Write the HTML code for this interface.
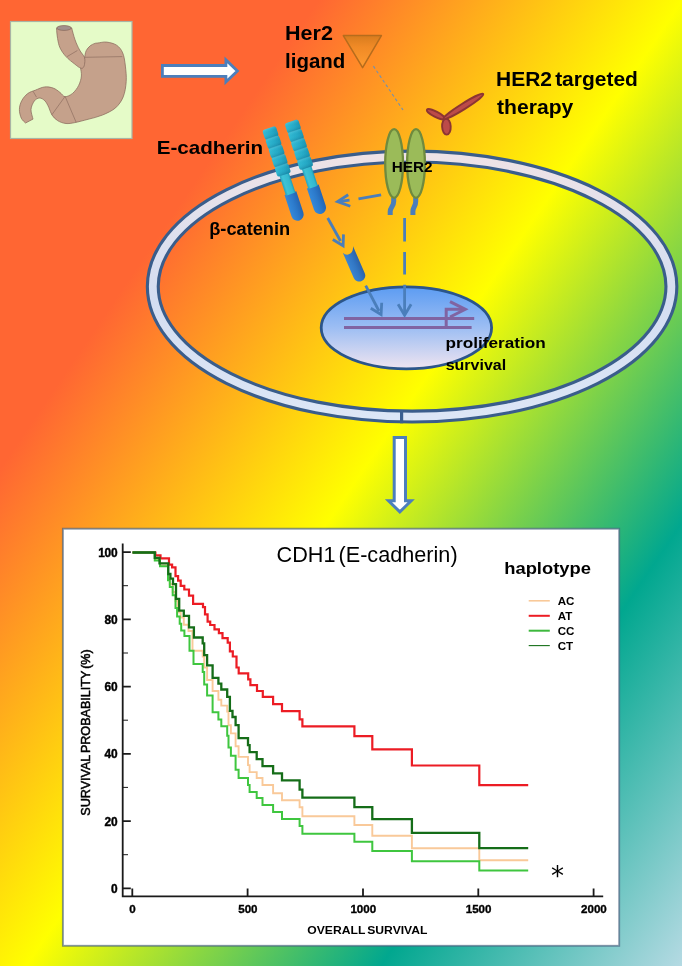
<!DOCTYPE html>
<html lang="en"><head><meta charset="utf-8"><title>HER2 and E-cadherin in gastric cancer</title>
<style>
html,body{margin:0;padding:0}
body{width:682px;height:966px;overflow:hidden;background:#FF6633}
#slide{position:relative;width:682px;height:966px;overflow:hidden;
background:linear-gradient(124.2deg,#FF6633 0%,#FF6633 23.8%,#FFFF00 51%,#01A78F 77.5%,#B5DAE3 100%)}
svg{display:block;position:absolute;left:0;top:0}
text{font-family:"Liberation Sans",sans-serif;fill:#000}
.b{font-weight:bold}
</style></head><body>
<div id="slide">
<svg width="682" height="966" viewBox="0 0 682 966">
<defs>
<linearGradient id="memb" x1="0" y1="0" x2="0" y2="1"><stop offset="0" stop-color="#EEE2E6"/><stop offset="0.3" stop-color="#DEE0EE"/><stop offset="0.55" stop-color="#D4DDF1"/><stop offset="1" stop-color="#DCE6F6"/></linearGradient>
<linearGradient id="nuc" x1="0" y1="0" x2="0" y2="1"><stop offset="0" stop-color="#5C9CF2"/><stop offset="0.5" stop-color="#9DBEF3"/><stop offset="1" stop-color="#EFE4F0"/></linearGradient>
<linearGradient id="tri" x1="0" y1="0" x2="0" y2="1"><stop offset="0" stop-color="#D87C1E"/><stop offset="0.35" stop-color="#F08A26"/><stop offset="1" stop-color="#FF9C30"/></linearGradient>
<linearGradient id="seg" x1="0" y1="0" x2="1" y2="0"><stop offset="0" stop-color="#31BAD3"/><stop offset="0.6" stop-color="#25A9C6"/><stop offset="1" stop-color="#1C97B5"/></linearGradient>
<linearGradient id="thin" x1="0" y1="0" x2="1" y2="0"><stop offset="0" stop-color="#25A5BF"/><stop offset="0.25" stop-color="#3FC3D6"/><stop offset="0.8" stop-color="#33B8CE"/><stop offset="1" stop-color="#1F9AB4"/></linearGradient>
<linearGradient id="cyl" x1="0" y1="0" x2="1" y2="0"><stop offset="0" stop-color="#3489DA"/><stop offset="0.5" stop-color="#2C7ACB"/><stop offset="1" stop-color="#2465B3"/></linearGradient>
<linearGradient id="shade" x1="0" y1="0" x2="0" y2="1"><stop offset="0" stop-color="#7FE3F2" stop-opacity="0.35"/><stop offset="0.45" stop-color="#2AB0CB" stop-opacity="0"/><stop offset="1" stop-color="#0A5F80" stop-opacity="0.4"/></linearGradient>
<linearGradient id="cyl2" x1="0" y1="0" x2="1" y2="0"><stop offset="0" stop-color="#3A84D2"/><stop offset="0.5" stop-color="#3277C4"/><stop offset="1" stop-color="#2A62AA"/></linearGradient>
<g id="rod">
 <path d="M-6.2 68.5H6.2V91A6.2 6.2 0 0 1 -6.2 91Z" fill="url(#cyl)"/>
 <rect x="-5" y="47" width="10" height="22.5" fill="url(#thin)"/>
 <rect x="-7.1" y="0" width="14.2" height="10.4" rx="2.2" fill="url(#seg)"/>
 <rect x="-7.1" y="9.7" width="14.2" height="10.4" rx="2.2" fill="url(#seg)"/>
 <rect x="-7.1" y="19.4" width="14.2" height="10.4" rx="2.2" fill="url(#seg)"/>
 <rect x="-7.1" y="29.1" width="14.2" height="10.4" rx="2.2" fill="url(#seg)"/>
 <rect x="-7.1" y="38.8" width="14.2" height="10.4" rx="2.2" fill="url(#seg)"/>
 <rect x="-7.1" y="0.0" width="14.2" height="10.2" rx="2.4" fill="url(#shade)"/>
 <rect x="-7.1" y="9.7" width="14.2" height="10.2" rx="2.4" fill="url(#shade)"/>
 <rect x="-7.1" y="19.4" width="14.2" height="10.2" rx="2.4" fill="url(#shade)"/>
 <rect x="-7.1" y="29.1" width="14.2" height="10.2" rx="2.4" fill="url(#shade)"/>
 <rect x="-7.1" y="38.8" width="14.2" height="10.2" rx="2.4" fill="url(#shade)"/>
</g>
</defs>
<rect x="10.5" y="21.5" width="121.5" height="117" fill="#E5FBC8" stroke="#A9B4A4" stroke-width="1.2"/>
<g fill="#C5A18B" stroke="#8A6A5C" stroke-width="0.75" stroke-linejoin="round">
<path d="M84.7 57.1C84.9 56.0 85.3 52.6 86.2 50.7C87.1 48.8 88.7 47.1 90.2 45.8C91.6 44.6 93.7 43.9 95.0 43.4C96.3 43.0 95.9 43.2 97.9 43.0C99.8 42.8 103.5 41.7 106.7 42.1C109.8 42.5 113.9 43.4 116.6 45.2C119.2 47.0 121.3 49.4 122.7 52.9C124.2 56.4 124.8 61.3 125.4 66.1C125.9 70.8 126.6 76.3 126.2 81.5C125.9 86.6 125.0 92.5 123.2 96.9C121.4 101.3 118.9 104.8 115.5 107.9C112.0 110.9 106.8 113.2 102.3 115.1C97.7 117.0 92.6 118.1 88.0 119.3C83.4 120.5 78.4 121.9 74.8 122.6C71.1 123.3 68.8 123.8 66.0 123.5C63.1 123.2 60.0 122.1 57.6 120.6C55.3 119.2 53.4 117.1 51.9 114.9C50.4 112.7 50.0 109.8 48.8 107.4C47.7 105.1 46.4 102.4 44.9 100.8C43.3 99.3 41.3 97.9 39.6 98.0C37.8 98.0 35.7 99.1 34.3 101.0C32.9 103.0 31.2 106.4 31.0 109.4C30.8 112.4 32.7 117.5 33.0 119.1L25.5 123.0C24.8 122.2 22.4 120.5 21.3 118.2C20.3 115.9 19.3 112.3 19.4 109.4C19.4 106.5 20.4 103.2 21.8 100.6C23.2 98.0 25.4 95.3 27.7 93.6C30.0 91.8 32.8 91.2 35.6 90.1C38.4 89.0 41.5 87.3 44.4 87.0C47.4 86.6 50.7 87.2 53.2 88.1C55.8 89.0 57.8 90.8 59.8 92.3C61.8 93.7 63.0 96.5 65.1 96.7C67.2 96.8 70.3 95.2 72.6 93.4C74.8 91.5 77.3 88.3 78.7 85.4C80.2 82.5 81.1 78.9 81.4 76.0C81.7 73.0 80.6 69.0 80.5 67.6Z"/>
<path d="M56.5 28.5C56.7 30.2 57.0 35.4 57.6 38.6C58.2 41.8 58.6 44.8 60.0 47.8C61.4 50.8 63.5 53.9 66.0 56.6C68.4 59.3 72.5 62.3 74.8 64.1C77.0 65.9 78.3 67.0 79.6 67.6C80.9 68.3 81.9 68.6 82.7 68.1C83.5 67.5 84.2 66.3 84.5 64.5C84.7 62.8 85.3 59.9 84.5 57.5C83.6 55.1 81.2 53.0 79.6 50.0C78.0 47.1 76.3 43.4 75.0 39.7C73.7 36.0 72.2 30.0 71.7 28.0Z"/>
<ellipse cx="64.0" cy="28.0" rx="7.3" ry="2.4" fill="#A2908C"/>
</g>
<g fill="none" stroke="#8E6F60" stroke-width="0.7">
<path d="M84.7 57.3L122.3 56.6"/>
<path d="M67.1 56.6L77.4 50.5"/>
<path d="M65.1 96.4L51.9 114.7"/>
<path d="M65.1 96.4L76.1 122.2"/>
<path d="M33.0 91.2L36.5 97.1"/>
</g>
<path d="M162.4 65.5H225.9V59.9L237.4 70.9L225.9 81.9V76.3H162.4Z" fill="#fff" stroke="#4C7FBC" stroke-width="2.8" stroke-linejoin="miter"/>
<ellipse cx="412.1" cy="286.6" rx="259.3" ry="130" fill="none" stroke="#3A5D8B" stroke-width="14"/>
<ellipse cx="412.1" cy="286.6" rx="259.3" ry="130" fill="none" stroke="url(#memb)" stroke-width="7.8"/>
<path d="M401.6 410V423.3" stroke="#3A5F90" stroke-width="3.2" fill="none"/>
<path d="M343.3 35.6H381.4L362.6 67.6Z" fill="url(#tri)" stroke="#B66C1C" stroke-width="1.5" stroke-linejoin="round"/>
<path d="M373.4 66.1L403 110" stroke="#7290B0" stroke-width="1.1" stroke-dasharray="3 2.6" fill="none"/>
<g fill="#BC4B49" stroke="#8C3533" stroke-width="1.9">
<ellipse cx="446.4" cy="126.6" rx="4.3" ry="8" transform="rotate(-3 446.4 126.6)"/>
<ellipse cx="435.8" cy="114.3" rx="10" ry="2.7" transform="rotate(27.3 435.8 114.3)"/>
<ellipse cx="463.4" cy="106.4" rx="23.4" ry="2.9" transform="rotate(-32 463.4 106.4)"/>
</g>
<use href="#rod" transform="translate(268.9 128.1) rotate(-18.3)"/>
<use href="#rod" transform="translate(291.3 121.4) rotate(-18.3)"/>
<g stroke="#4A7EBB" stroke-width="5" fill="none" stroke-linecap="butt">
<path d="M393.7 197.5V201.5C393.7 206.5 390.2 207 390.2 211.5V215"/>
<path d="M415.7 197.5V201.5C415.7 206.5 412.9 207 412.9 211.5V215"/>
</g>
<ellipse cx="394.1" cy="163.5" rx="8.9" ry="34.3" fill="#9BBB59" stroke="#6F8A3E" stroke-width="2.3"/>
<ellipse cx="416" cy="163.5" rx="8.9" ry="34.3" fill="#9BBB59" stroke="#6F8A3E" stroke-width="2.3"/>
<ellipse cx="406.4" cy="327.8" rx="85.2" ry="41" fill="url(#nuc)" stroke="#2B558A" stroke-width="2.8"/>
<g stroke="#8064A2" stroke-width="3" fill="none">
<path d="M344 318.5H474.2"/>
<path d="M344 327.5H471.6"/>
<path d="M446.2 326.5V309.3H464"/>
<path d="M450 301.6L465.3 309.3L450 317" stroke-linejoin="miter"/>
</g>
<g stroke="#4A7EBB" stroke-width="2.8" fill="none">
<path d="M381.1 194.8L358.5 198.9"/>
<path d="M349.5 200.1L338 201.6"/>
<path d="M348.2 194.8L337.5 201.6L350.3 206.3"/>
<path d="M327.7 218L340.5 241"/>
<path d="M332.8 239.5L343.1 245.7L343.5 234.4"/>
<path d="M365.7 285.7L379 311"/>
<path d="M370.8 308.3L381.1 314.5L381.7 302.8"/>
<path d="M404.6 218V241.6M404.6 251.9V274.4M404.6 284.7V313"/>
<path d="M398.1 304.2L404.6 315.2L411.1 304.2"/>
</g>
<path d="M-6 -1C-3.6 4.8 4 4.2 6 -3.2V26.5A6 6 0 0 1 -6 26.5Z" fill="url(#cyl2)" transform="translate(348.7 251.3) rotate(-23.5)"/>
<path d="M394.2 437.6H405.5V500.7H411.2L399.85 511.9L388.5 500.7H394.2Z" fill="#fff" stroke="#4C7FBC" stroke-width="3"/>
<text x="285.1" y="39.7" font-size="19.3" class="b" textLength="47.8" lengthAdjust="spacingAndGlyphs">Her2</text>
<text x="285.1" y="68.3" font-size="19.3" class="b" textLength="60.3" lengthAdjust="spacingAndGlyphs">ligand</text>
<text x="496.1" y="85.7" font-size="19.3" class="b" textLength="141.8" lengthAdjust="spacingAndGlyphs" word-spacing="-2.5">HER2 targeted</text>
<text x="497.0" y="113.6" font-size="19.3" class="b" textLength="76.3" lengthAdjust="spacingAndGlyphs">therapy</text>
<text x="156.7" y="153.6" font-size="19.0" class="b" textLength="106.5" lengthAdjust="spacingAndGlyphs">E-cadherin</text>
<text x="209.2" y="234.5" font-size="18.0" class="b" textLength="81.0" lengthAdjust="spacingAndGlyphs">β-catenin</text>
<text x="391.7" y="171.6" font-size="15.2" class="b" textLength="40.9" lengthAdjust="spacingAndGlyphs">HER2</text>
<text x="445.5" y="347.6" font-size="15.2" class="b" textLength="100.2" lengthAdjust="spacingAndGlyphs">proliferation</text>
<text x="445.7" y="370.4" font-size="15.2" class="b" textLength="60.5" lengthAdjust="spacingAndGlyphs">survival</text>
<rect x="62.9" y="528.7" width="556.3" height="417.1" fill="#fff" stroke="#46607E" stroke-opacity="0.66" stroke-width="1.9"/>
<g stroke="#1a1a1a" fill="none">
<path d="M122.7 543.5V896.4H603.2" stroke-width="1.8"/>
<path d="M122.7 888.3H130.8M122.7 821.1H130.8M122.7 753.8H130.8M122.7 686.6H130.8M122.7 619.3H130.8M122.7 552.1H130.8" stroke-width="1.8"/>
<path d="M122.7 854.7H128M122.7 787.4H128M122.7 720.2H128M122.7 653.0H128M122.7 585.7H128" stroke-width="1"/>
<path d="M132.3 896.4V888.6M247.6 896.4V888.6M363.0 896.4V888.6M478.3 896.4V888.6M593.6 896.4V888.6" stroke-width="1.8"/>
</g>
<g fill="none" stroke-linejoin="miter">
<path d="M132.5 552.5H154.8V559.5H160.0V565.5H168.0V578.0H169.8V584.0H172.7V592.0H175.5V601.0H177.6V612.3H180.7V617.5H183.8V624.7H188.5V631.0H192.5V650.7H202.7V656.5H204.2V667.5H207.1V680.0H212.6V691.0H218.4V699.8H221.3V705.6H227.2V711.5H228.5V725.2H230.9V733.4H235.6V746.3H238.6V756.9H248.0V765.1H249.6V772.1H256.7V778.0H262.5V785.0H273.1V793.2H282.0V800.3H299.6V807.3H302.4V816.2H354.4V825.0H372.3V835.8H411.9V848.2H479.3V860.2H528.2" stroke="#F9C999" stroke-width="1.9"/>
<path d="M132.5 552.5H155.4V555.4H160.5V558.3H169.0V564.7H172.1V567.3H175.5V576.1H178.1V580.7H180.7V585.9H184.3V589.5H189.0V595.7H193.1V603.8H203.0V607.1H205.0V614.4H207.6V621.6H210.2V625.0H214.5V629.4H218.9V633.1H222.5V638.2H227.7V642.6H229.9V651.4H232.8V656.5H236.5V667.5H238.7V673.4H248.2V679.3H250.4V685.1H257.0V691.0H262.8V696.8H273.1V704.1H282.0V711.1H299.6V719.3H302.4V726.4H354.4V736.1H372.3V749.3H411.9V765.5H479.3V785.1H528.2" stroke="#EC1C24" stroke-width="2.2"/>
<path d="M132.5 552.5H154.8V560.5H160.0V566.2H168.0V580.2H169.8V586.9H172.7V595.2H175.5V608.1H177.1V616.4H179.7V623.7H181.2V630.4H184.4V636.0H189.5V650.7H193.5V663.9H202.7V671.9H204.2V684.4H207.1V695.4H212.6V712.2H218.4V719.6H221.3V726.2H227.2V735.7H228.5V747.5H230.9V755.7H235.6V769.8H238.6V778.0H248.0V785.0H249.6V792.1H256.7V797.9H262.5V805.0H273.1V812.0H282.0V819.0H299.6V826.1H302.4V833.8H354.4V841.7H372.3V851.1H411.9V861.3H479.3V870.4H528.2" stroke="#3FC63F" stroke-width="2"/>
<path d="M132.5 552.5H154.8V557.9H159.5V563.4H168.3V574.0H170.4V578.6H173.0V584.1H176.0V598.8H179.2V610.7H183.8V615.9H189.0V627.3H193.9V637.5H202.7V643.3H204.2V655.1H207.1V665.3H212.6V677.8H218.4V683.7H221.3V689.5H227.2V696.8H229.9V710.8H232.5V717.0H235.6V725.2H238.6V738.1H248.0V745.1H249.6V752.2H256.7V759.2H262.5V766.2H273.1V773.3H282.0V780.3H299.6V789.7H302.4V797.7H354.4V807.1H372.3V819.1H411.9V832.9H479.3V848.2H528.2" stroke="#156D18" stroke-width="2.3"/>
</g>
<text x="117.4" y="892.7" font-size="11.9" class="b" text-anchor="end" letter-spacing="-0.2" stroke="#000" stroke-width="0.4">0</text>
<text x="117.4" y="825.5" font-size="11.9" class="b" text-anchor="end" letter-spacing="-0.2" stroke="#000" stroke-width="0.4">20</text>
<text x="117.4" y="758.2" font-size="11.9" class="b" text-anchor="end" letter-spacing="-0.2" stroke="#000" stroke-width="0.4">40</text>
<text x="117.4" y="691.0" font-size="11.9" class="b" text-anchor="end" letter-spacing="-0.2" stroke="#000" stroke-width="0.4">60</text>
<text x="117.4" y="623.7" font-size="11.9" class="b" text-anchor="end" letter-spacing="-0.2" stroke="#000" stroke-width="0.4">80</text>
<text x="117.4" y="556.5" font-size="11.9" class="b" text-anchor="end" letter-spacing="-0.2" stroke="#000" stroke-width="0.4">100</text>
<text x="132.6" y="913.2" font-size="11.6" class="b" text-anchor="middle" stroke="#000" stroke-width="0.35">0</text>
<text x="247.9" y="913.2" font-size="11.6" class="b" text-anchor="middle" stroke="#000" stroke-width="0.35">500</text>
<text x="363.3" y="913.2" font-size="11.6" class="b" text-anchor="middle" stroke="#000" stroke-width="0.35">1000</text>
<text x="478.6" y="913.2" font-size="11.6" class="b" text-anchor="middle" stroke="#000" stroke-width="0.35">1500</text>
<text x="593.9" y="913.2" font-size="11.6" class="b" text-anchor="middle" stroke="#000" stroke-width="0.35">2000</text>
<text x="307.3" y="934.4" font-size="11.6" class="b" textLength="120.2" lengthAdjust="spacingAndGlyphs" word-spacing="-1.2">OVERALL SURVIVAL</text>
<text transform="translate(90 815.7) rotate(-90)" font-size="12.4" textLength="166.4" lengthAdjust="spacingAndGlyphs" stroke="#000" stroke-width="0.5" word-spacing="-1.5">SURVIVAL PROBABILITY (%)</text>
<text x="276.6" y="562.4" font-size="21.6" textLength="181.0" lengthAdjust="spacingAndGlyphs" word-spacing="-3">CDH1 (E-cadherin)</text>
<text x="504.2" y="574.0" font-size="17.0" class="b" textLength="86.8" lengthAdjust="spacingAndGlyphs">haplotype</text>
<path d="M528.7 600.8H549.8" stroke="#F9C999" stroke-width="1.6"/>
<text x="557.7" y="605.1" font-size="11.6" class="b">AC</text>
<path d="M528.7 615.8H549.8" stroke="#EC1C24" stroke-width="2.0"/>
<text x="557.7" y="620.0" font-size="11.6" class="b">AT</text>
<path d="M528.7 630.7H549.8" stroke="#3DB83D" stroke-width="2.0"/>
<text x="557.7" y="635.0" font-size="11.6" class="b">CC</text>
<path d="M528.7 645.6H549.8" stroke="#17701A" stroke-width="1.1"/>
<text x="557.7" y="649.9" font-size="11.6" class="b">CT</text>
<text x="557.4" y="884.6" font-size="26" text-anchor="middle" style="font-family:'DejaVu Sans','Liberation Sans',sans-serif">*</text>
</svg>
</div>
</body></html>
